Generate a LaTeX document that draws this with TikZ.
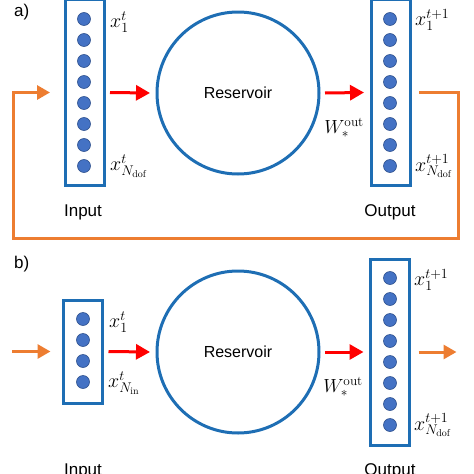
\documentclass[tikz,border=0pt]{standalone}
\usepackage{fix-cm}
\usepackage{fontspec}
\setsansfont{Liberation Sans}
\usetikzlibrary{arrows.meta}
\definecolor{boxblue}{RGB}{30,110,180}
\definecolor{dotblue}{RGB}{68,114,196}
\definecolor{dotedge}{RGB}{47,82,143}
\definecolor{feedorange}{RGB}{237,125,49}

\begin{document}
\begin{tikzpicture}[x=1pt, y=-1pt,
    vecbox/.style={draw=boxblue, line width=3pt, minimum width=39pt, inner sep=0pt, outer sep=0pt},
    res/.style={circle, draw=boxblue, line width=3pt, minimum size=162pt, inner sep=0pt, outer sep=0pt, font=\sffamily\fontsize{16}{18}\selectfont},
    unit/.style={circle, fill=dotblue, draw=dotedge, line width=0.6pt, minimum size=13pt, inner sep=0pt},
    lab/.style={font=\fontsize{20}{24}\selectfont, inner sep=0pt, anchor=west},
    wlab/.style={font=\fontsize{19}{24}\selectfont, inner sep=0pt, anchor=east},
    captext/.style={font=\sffamily\fontsize{17}{20}\selectfont, anchor=base, inner sep=0pt},
    weight/.style={-{Triangle[length=14pt,width=15pt]}, red, line width=3pt},
    feed/.style={feedorange, line width=3pt, -{Triangle[length=13pt,width=14pt]}}]
    \useasboundingbox (0,0) rectangle (474,474);
    \clip (0,0) rectangle (474,474);

    % panel a
    \node[captext, anchor=base west] (tagA) at (14,16) {a)};
    \node[vecbox, minimum height=186pt] (inA) at (84.5,92.5) {};
    \node[vecbox, minimum height=186pt] (outA) at (390.5,92.5) {};
    \foreach \i in {0,...,7} {
        \node[unit] (ia\i) at (84,19+21*\i) {};
        \node[unit] (oa\i) at (390,19+21*\i) {};
    }
    \node[res] (resA) at (238,93) {Reservoir};
    \node[lab] (xa1) at (110,22) {$x_1^t$};
    \node[lab] (xaN) at (110,166) {$x_{N_{\mathrm{dof}}}^t$};
    \node[lab] (ya1) at (415,20) {$x_1^{t+1}$};
    \node[lab] (yaN) at (415,166) {$x_{N_{\mathrm{dof}}}^{t+1}$};
    \node[wlab] (wA) at (364,128) {$W_*^{\mathrm{out}}$};
    \node[captext] (capInA) at (83,216) {Input};
    \node[captext] (capOutA) at (390,216) {Output};
    \coordinate (fbR) at (458,238);
    \coordinate (fbL) at (13,238);
    \draw[weight] ([xshift=6pt]inA.east) -- ([xshift=-7pt]resA.west);
    \draw[weight] ([xshift=6pt]resA.east) -- ([xshift=-7pt]outA.west);
    \draw[feed] ([xshift=9pt]outA.east) -| (fbR) -- (fbL) |- ([xshift=-15pt]inA.west);

    % panel b
    \node[captext, anchor=base west] (tagB) at (14,268) {b)};
    \node[vecbox, minimum height=103pt] (inB) at (83,351.5) {};
    \node[vecbox, minimum height=186pt] (outB) at (390,352) {};
    \foreach \i in {0,...,3}
        \node[unit] (ib\i) at (83,319+21*\i) {};
    \foreach \i in {0,...,7}
        \node[unit] (ob\i) at (390,278+21*\i) {};
    \node[res] (resB) at (238,352) {Reservoir};
    \node[lab] (xb1) at (109,322) {$x_1^t$};
    \node[lab] (xbN) at (108,383) {$x_{N_{\mathrm{in}}}^t$};
    \node[lab] (yb1) at (414,280) {$x_1^{t+1}$};
    \node[lab] (ybN) at (414,425) {$x_{N_{\mathrm{dof}}}^{t+1}$};
    \node[wlab] (wB) at (363,387) {$W_*^{\mathrm{out}}$};
    \node[captext] (capInB) at (83,475) {Input};
    \node[captext] (capOutB) at (390,475) {Output};
    \coordinate (srcB) at (12,351.5);
    \draw[feed] (srcB) -- ([xshift=-13pt]inB.west);
    \draw[weight] ([xshift=6pt]inB.east) -- ([xshift=-7pt]resB.west);
    \draw[weight] ([xshift=6pt]resB.east) -- ([xshift=-7pt]outB.west);
    \draw[feed] ([xshift=9pt]outB.east) -- ++(38,0);
\end{tikzpicture}
\end{document}
